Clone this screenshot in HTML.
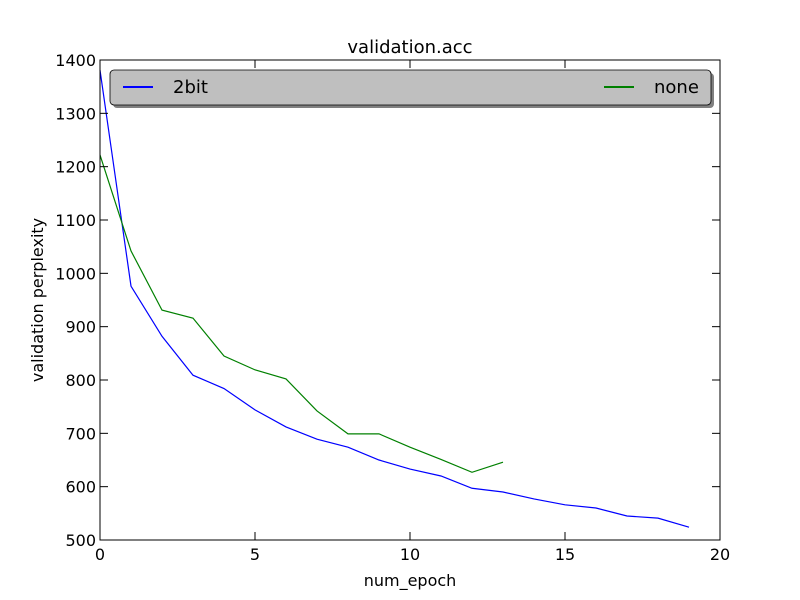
<!DOCTYPE html>
<html><head><meta charset="utf-8"><style>
body{margin:0;background:#fff;}
svg{display:block;font-family:"DejaVu Sans","Liberation Sans",sans-serif;}
</style></head><body>
<svg id="chart" width="800" height="600">
<rect x="0" y="0" width="800" height="600" fill="#fff"/>
<text x="410" y="53" font-size="18" text-anchor="middle">validation.acc</text>
<g id="marks"></g>
<rect x="100" y="60" width="620" height="480" fill="none" stroke="#000" stroke-width="1"/>
<g id="ticks"></g>
<text x="410" y="586" font-size="16" text-anchor="middle">num_epoch</text>
<text x="0" y="0" font-size="16" text-anchor="middle" transform="translate(43,300) rotate(-90)">validation perplexity</text>
<g>
<rect x="113" y="73" width="601" height="35" rx="4" fill="#808080"/>
<rect x="110" y="70" width="601" height="35" rx="4" fill="#bfbfbf" stroke="#000" stroke-width="0.8"/>
<g>
<line x1="123" y1="87" x2="153" y2="87" stroke="#0000ff" stroke-width="2"/>
<text x="173" y="93" font-size="18">2bit</text></g>
<g>
<line x1="604" y1="87" x2="634" y2="87" stroke="#008000" stroke-width="2"/>
<text x="654" y="93" font-size="18">none</text></g>
</g>
</svg>
<script>
const epochsBlue=[0,1,2,3,4,5,6,7,8,9,10,11,12,13,14,15,16,17,18,19];
const valuesBlue=[1381,976,882,809,784,744,712,689,674,650,633,620,597,590,577,566,560,545,541,524];
const epochsGreen=[0,1,2,3,4,5,6,7,8,9,10,11,12,13];
const valuesGreen=[1222,1042,931,916,845,819,802,742,699,699,674,651,627,646];
const xTicks=[0,5,10,15,20];
const yTicks=[500,600,700,800,900,1000,1100,1200,1300,1400];
const NS="http://www.w3.org/2000/svg";
const xs=v=>100+v*(620/20);
const ys=v=>540-(v-500)*(480/900);
const marks=document.getElementById('marks');
function line(xa,ya,color,name){
  const p=document.createElementNS(NS,'polyline');
  p.setAttribute('points',xa.map((x,i)=>xs(x)+','+ys(ya[i])).join(' '));
  p.setAttribute('fill','none');p.setAttribute('stroke',color);p.setAttribute('stroke-width','1.2');
  
  
  marks.appendChild(p);
}
line(epochsBlue,valuesBlue,'#0000ff','series-2bit');
line(epochsGreen,valuesGreen,'#008000','series-none');
const tk=document.getElementById('ticks');
xTicks.forEach(t=>{
  const x=xs(t);
  const g=document.createElementNS(NS,'g');
  
  
  g.innerHTML=`<line x1="${x}" y1="540" x2="${x}" y2="532" stroke="#000"/><line x1="${x}" y1="60" x2="${x}" y2="68" stroke="#000"/><text x="${x}" y="560" font-size="16" text-anchor="middle">${t}</text>`;
  tk.appendChild(g);
});
yTicks.forEach(t=>{
  const y=ys(t);
  const g=document.createElementNS(NS,'g');
  
  
  g.innerHTML=`<line x1="100" y1="${y}" x2="108" y2="${y}" stroke="#000"/><line x1="720" y1="${y}" x2="712" y2="${y}" stroke="#000"/><text x="96" y="${y+6}" font-size="16" text-anchor="end">${t}</text>`;
  tk.appendChild(g);
});
</script>
</body></html>
